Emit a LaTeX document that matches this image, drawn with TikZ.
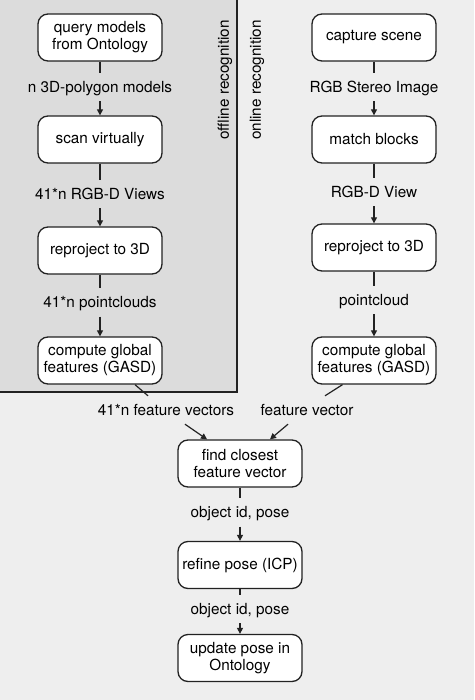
\documentclass[tikz,border=0pt]{standalone}
\usepackage{fontspec}
\setmainfont{TeX Gyre Heros}
\usetikzlibrary{arrows.meta}
\definecolor{bgout}{HTML}{EEEEEE}
\definecolor{bgoff}{HTML}{DCDCDC}
\definecolor{ink}{HTML}{222222}
\newcommand{\fsz}{\fontsize{15.3}{17}\selectfont}
\begin{document}
\begin{tikzpicture}[x=1pt,y=-1pt,
  box/.style={draw=ink, line width=1.3pt, fill=white, rounded corners=10pt,
    minimum width=124pt, minimum height=47pt, align=center, inner sep=0pt, font=\fsz},
  lbl/.style={inner sep=0pt, minimum height=28pt, text height=10.8pt, text depth=0pt, font=\fsz},
  side/.style={rotate=90, inner sep=0pt, font=\fsz},
  conn/.style={draw=ink, line width=1.2pt},
  arr/.style={conn, -{Triangle[length=6pt,width=6pt]}}]
\useasboundingbox (0,0) rectangle (474,700);
\fill[bgout] (0,0) rectangle (474,700);
\fill[bgoff] (0,0) rectangle (237,392);
\draw[ink, line width=1.2pt] (237,0) -- (237,392) -- (0,392);

\node[side] (offl) at (225,80) {offline recognition};
\node[side] (onl) at (257,80) {online recognition};

% left column
\node[box] (q) at (100,37.5) {query models\\from Ontology};
\node[lbl] (l1) at (100,87) {n 3D-polygon models};
\node[box] (scan) at (100,139.5) {scan virtually};
\node[lbl] (l2) at (100,194) {41*n RGB-D Views};
\node[box] (rep) at (100,250.5) {reproject to 3D};
\node[lbl] (l3) at (100,302.5) {41*n pointclouds};
\node[box] (comp) at (100,360.5) {compute global\\features (GASD)};

% right column
\node[box] (cap) at (374,37.5) {capture scene};
\node[lbl] (r1) at (374,87) {RGB Stereo Image};
\node[box] (match) at (374,139.5) {match blocks};
\node[lbl] (r2) at (374,192) {RGB-D View};
\node[box] (rrep) at (374,247.5) {reproject to 3D};
\node[lbl] (r3) at (374,300) {pointcloud};
\node[box] (rcomp) at (374,360.5) {compute global\\features (GASD)};

% merge
\node[lbl] (lfv) at (166,410) {41*n feature vectors};
\node[lbl] (rfv) at (307,410) {feature vector};
\node[box] (fc) at (240,463.5) {find closest\\feature vector};
\node[lbl] (b1) at (240,512.5) {object id, pose};
\node[box] (ref) at (240,565) {refine pose (ICP)};
\node[lbl] (b2) at (240,609) {object id, pose};
\node[box] (upd) at (240,658) {update pose in\\Ontology};

% connectors
\draw[conn] (q) -- (l1); \draw[arr] (l1) -- (scan);
\draw[conn] (scan) -- (l2); \draw[arr] (l2) -- (rep);
\draw[conn] (rep) -- (l3); \draw[arr] (l3) -- (comp);
\draw[conn] (cap) -- (r1); \draw[arr] (r1) -- (match);
\draw[conn] (match) -- (r2); \draw[arr] (r2) -- (rrep);
\draw[conn] (rrep) -- (r3); \draw[arr] (r3) -- (rcomp);
\draw[conn] ([xshift=35pt]comp.south) -- ([xshift=-18pt]lfv.north);
\draw[arr] ([xshift=19pt]lfv.south) -- ([xshift=-33pt]fc.north);
\draw[conn] ([xshift=-31.5pt]rcomp.south) -- ([xshift=18pt]rfv.north);
\draw[arr] ([xshift=-19pt]rfv.south) -- ([xshift=30pt]fc.north);
\draw[conn] (fc) -- (b1); \draw[arr] (b1) -- (ref);
\draw[conn] (ref) -- (b2); \draw[arr] (b2) -- (upd);
\end{tikzpicture}
\end{document}
